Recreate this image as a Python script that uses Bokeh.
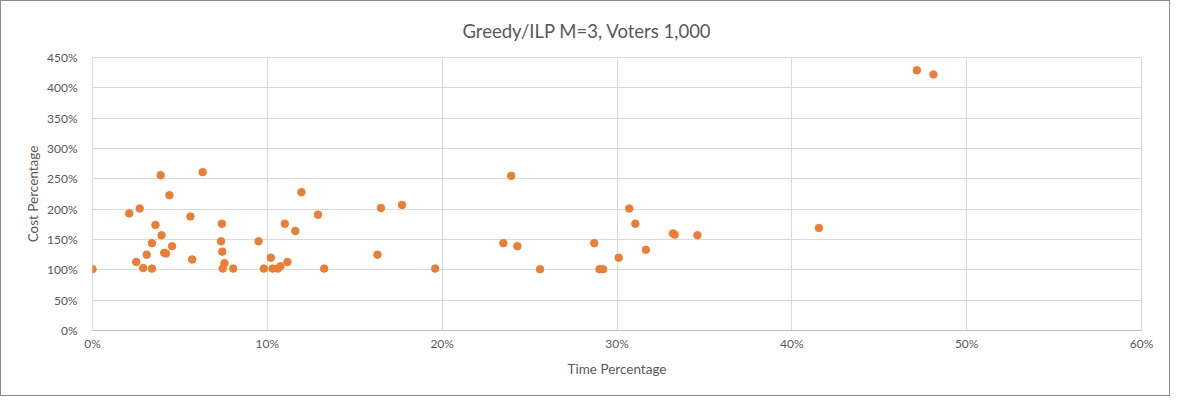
from bokeh.plotting import figure
from bokeh.models import FixedTicker, PrintfTickFormatter, Range1d
from bokeh.embed import file_html
from bokeh.resources import INLINE

title_text = "Greedy/ILP M=3, Voters 1,000"
x_label = "Time Percentage"
y_label = "Cost Percentage"

time_pct = [0.0, 2.1, 2.7, 3.9, 6.3, 4.4, 3.6, 3.95, 3.4, 4.55, 4.1, 4.2, 3.1, 2.5, 2.9,
            3.4, 5.6, 5.7, 7.4, 7.35, 7.42, 7.55, 7.45, 8.05, 9.5, 9.8, 10.2, 10.3, 10.6,
            10.75, 11.15, 11.0, 11.6, 11.95, 12.9, 13.25, 16.3, 16.5, 17.7, 19.6, 23.5,
            23.95, 24.3, 25.6, 28.7, 29.0, 29.2, 30.1, 30.7, 31.05, 31.65, 33.2, 33.3,
            34.6, 41.55, 47.15, 48.1]
cost_pct = [101, 193, 201, 256, 261, 223, 174, 157, 144, 139, 128, 127, 125, 113, 103,
            102, 188, 117, 176, 147, 130, 111, 102, 102, 147, 102, 120, 102, 102,
            106, 113, 176, 164, 228, 191, 102, 125, 202, 207, 102, 144,
            255, 139, 101, 144, 101, 101, 120, 201, 176, 133, 160, 158,
            157, 169, 429, 422]

x_ticks = [0, 10, 20, 30, 40, 50, 60]
y_ticks = [0, 50, 100, 150, 200, 250, 300, 350, 400, 450]

FONT = "Lato"
GREY = "#595959"

p = figure(width=1170, height=396, output_backend="svg", toolbar_location=None,
           x_range=Range1d(0, 60), y_range=Range1d(0, 450),
           min_border_left=91, min_border_right=30, min_border_top=56, min_border_bottom=67,
           title=title_text)
p.styles = {"border": "1px solid #8c8c8c", "box-sizing": "border-box"}

p.title.align = "left"
p.title.vertical_align = "bottom"
p.title.offset = 370
p.title.text_font = FONT
p.title.text_font_size = "18.5px"
p.title.text_font_style = "normal"
p.title.text_color = GREY
p.title.standoff = 31

p.outline_line_color = "#d9d9d9"
p.background_fill_color = "white"
p.border_fill_color = "white"

p.xaxis.ticker = FixedTicker(ticks=x_ticks)
p.yaxis.ticker = FixedTicker(ticks=y_ticks)
p.xaxis.formatter = PrintfTickFormatter(format="%d%%")
p.yaxis.formatter = PrintfTickFormatter(format="%d%%")

for ax in (p.xaxis[0], p.yaxis[0]):
    ax.major_tick_line_color = None
    ax.minor_tick_line_color = None
    ax.major_tick_out = 0
    ax.major_tick_in = 0
    ax.major_label_text_font = FONT
    ax.major_label_text_font_size = "12px"
    ax.major_label_text_color = GREY
    ax.axis_label_text_font = FONT
    ax.axis_label_text_font_size = "13.5px"
    ax.axis_label_text_font_style = "normal"
    ax.axis_label_text_color = GREY

p.xaxis.axis_label = x_label
p.yaxis.axis_label = y_label
p.yaxis.axis_line_color = None
p.xaxis.axis_line_color = "#bfbfbf"
p.xaxis.major_label_standoff = 5
p.yaxis.major_label_standoff = 15
p.xaxis.axis_label_standoff = 7
p.yaxis.axis_label_standoff = 3

p.xgrid.ticker = FixedTicker(ticks=x_ticks)
p.ygrid.ticker = FixedTicker(ticks=y_ticks)
p.grid.grid_line_color = "#d9d9d9"
p.grid.grid_line_width = 1

p.scatter(time_pct, cost_pct, size=7.5, color="#ED7D31", line_color="#ED7D31")

open("out.html", "w").write(file_html(p, INLINE))
